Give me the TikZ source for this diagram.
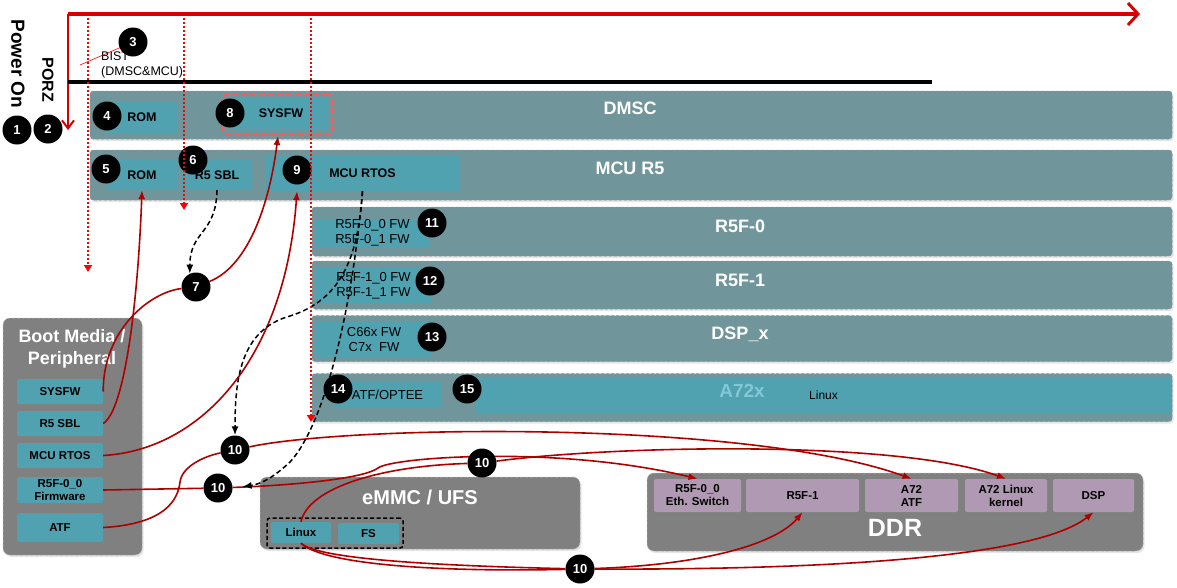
\documentclass[tikz,border=0pt]{standalone}
\usepackage{fontspec}
\setmainfont{Liberation Sans}
\usetikzlibrary{arrows.meta}
\usetikzlibrary{shadows}
\definecolor{bandc}{RGB}{112,150,155}
\definecolor{partc}{RGB}{80,162,177}
\definecolor{mediac}{RGB}{128,128,128}
\definecolor{ddrc}{RGB}{176,153,178}
\definecolor{loadc}{RGB}{175,0,0}
\definecolor{axisc}{RGB}{215,0,0}
\definecolor{ringc}{RGB}{250,90,90}
\definecolor{a72c}{RGB}{130,200,215}
\pgfdeclarelayer{lines}
\pgfdeclarelayer{marks}
\pgfsetlayers{main,lines,marks}
\tikzset{
  box/.style 2 args={minimum width=#1pt, minimum height=#2pt},
  band/.style={draw=gray!85, densely dashed, line width=0.5pt, fill=bandc, rounded corners=3pt, inner sep=0pt,
    drop shadow={opacity=0.2, shadow xshift=1.5pt, shadow yshift=-2pt}},
  media/.style={draw=gray!60, densely dashed, line width=0.5pt, fill=mediac, rounded corners=7pt, inner sep=0pt,
    drop shadow={opacity=0.2, shadow xshift=1.5pt, shadow yshift=-2pt}},
  part/.style={fill=partc, rounded corners=2pt, inner sep=0pt, align=center, font=\bfseries\fontsize{12.5}{14}\selectfont},
  fwtext/.style={font=\fontsize{13}{15}\selectfont},
  media part/.style={part, font=\bfseries\fontsize{11.5}{13}\selectfont},
  ddr part/.style={fill=ddrc, rounded corners=2pt, inner sep=0pt, align=center, font=\bfseries\fontsize{11.5}{13}\selectfont},
  row title/.style={text=white, font=\bfseries\fontsize{18}{20}\selectfont},
  media title/.style={text=white, align=center, font=\bfseries\fontsize{18}{22}\selectfont},
  num/.style={circle, fill=black, text=white, inner sep=0pt, minimum size=29pt, font=\bfseries\fontsize{13}{13}\selectfont},
  load/.style={draw=loadc, line width=1.6pt, -{Latex[length=9pt,width=7pt]}},
  load part/.style={draw=loadc, line width=1.6pt},
  hand/.style={draw=black, line width=1.5pt, dash pattern=on 5pt off 3pt, -{Latex[length=9pt,width=7pt]}},
  phase/.style={draw=red, line width=2.5pt, dash pattern=on 2pt off 2pt, -{Triangle[length=7pt,width=8pt]}},
  ring/.style={draw=ringc, line width=2pt, dash pattern=on 6pt off 3pt, rounded corners=5pt, inner sep=0pt},
  group/.style={draw=black, line width=1.5pt, dash pattern=on 4pt off 2.5pt, rounded corners=3pt, inner sep=0pt}
}

\begin{document}
\begin{tikzpicture}[x=1pt, y=-1pt]
  \fill[white, use as bounding box] (0,0) rectangle (1177,587);

  \coordinate (origin) at (68,14);
  \coordinate (tend) at (1140,14);
  \coordinate (porz) at (68,130);
  \draw[axisc, line width=3.5pt, -{Straight Barb[length=10pt,width=22pt,line width=3pt]}] (origin) -- (tend);
  \draw[axisc, line width=2pt, -{Straight Barb[length=8pt,width=12pt]}] (origin) -- (porz);
  \draw[line width=3.5pt] (68,82) -- (932,82);

  \node[rotate=-90, font=\bfseries\fontsize{19}{19}\selectfont] (pwron) at (18,64) {Power On};
  \node[rotate=-90, font=\bfseries\fontsize{16}{16}\selectfont] (porzt) at (48,80) {PORZ};
  \node[anchor=west, align=left, inner sep=0pt, font=\fontsize{12.5}{15.5}\selectfont] (bist) at (101,65) {BIST\\(DMSC\&MCU)};
  \coordinate (bistpin) at (80,65);

  \node[band, box={1082}{48}] (dmsc) at (631,115) {};
  \node[band, box={1082}{50}] (mcu) at (631,175) {};
  \node[band, box={860}{49}] (r5fa) at (742,231.5) {};
  \node[band, box={860}{48}] (r5fb) at (742,285) {};
  \node[band, box={860}{46}] (dspx) at (742,338.5) {};
  \node[band, box={860}{48}] (a72) at (742,397.5) {};
  \node[row title] (dmsct) at (630,108) {DMSC};
  \node[row title] (mcut) at (630,168) {MCU R5};
  \node[row title] (r5fat) at (740,226) {R5F-0};
  \node[row title] (r5fbt) at (740,280) {R5F-1};
  \node[row title] (dspxt) at (740,334) {DSP\_x};

  \node[part, box={70}{31}] (dmscrom) at (142,117.5) {ROM};
  \node[part, box={94}{33}] (sysfw) at (281,113.5) {SYSFW};
  \node[ring, box={110}{41}] (sysfwring) at (278,114.5) {};
  \node[part, box={70}{30}] (mcurom) at (142,175) {ROM};
  \node[part, box={70}{30}] (r5sbl) at (217,175) {R5 SBL};
  \node[part, box={195}{35}] (mcurtos) at (362.5,173.5) {MCU RTOS};
  \node[part, fwtext, box={115}{28}] (fwa) at (372.5,233) {R5F-0\_0 FW\\R5F-0\_1 FW};
  \node[part, fwtext, box={117}{35}] (fwb) at (373.5,285.5) {R5F-1\_0 FW\\R5F-1\_1 FW};
  \node[part, fwtext, box={116}{35}] (c66) at (374,339.5) {C66x FW\\C7x\ \ FW};
  \node[part, fwtext, box={108}{27}] (optee) at (387.5,394.5) {ATF/OPTEE};
  \node[part, font=\fontsize{12}{14}\selectfont, box={697}{35}] (a72lx) at (823.5,395.5) {Linux};
  \node[row title, text=a72c, font=\bfseries\fontsize{19}{20}\selectfont] (a72t) at (742,391) {A72x};

  \node[media, box={139}{237}] (boot) at (72.5,436.5) {};
  \node[media title] (boott) at (72,349) {Boot Media /\\Peripheral};
  \foreach \n/\y/\h/\t in {bsysfw/391.5/25/SYSFW, br5sbl/423.5/25/R5 SBL, bmcurtos/455.5/25/MCU RTOS,
      bfw/490/26/{R5F-0\_0\\Firmware}, batf/527.5/29/ATF}
    \node[media part, box={86}{\h}] (\n) at (60,\y) {\t};

  \node[media, box={320}{72}] (emmc) at (420,513) {};
  \node[media title, font=\bfseries\fontsize{20}{22}\selectfont] (emmct) at (420,497) {eMMC / UFS};
  \node[group, box={136}{30}] (ospack) at (335,533) {};
  \node[media part, box={60}{21}] (emlinux) at (301,532.5) {Linux};
  \node[media part, box={61}{21}] (emfs) at (368.5,533.5) {FS};

  \node[media, box={496}{78}] (ddr) at (895,512) {};
  \node[media title, font=\bfseries\fontsize{25}{25}\selectfont] (ddrt) at (895,528) {DDR};
  \foreach \n/\x/\w/\t in {eth/697.5/87/{R5F-0\_0\\Eth. Switch}, ddrr5f/802.5/113/R5F-1, ddratf/911.5/93/{A72\\ATF},
      kernel/1006/82/{A72 Linux\\kernel}, ddrdsp/1093.5/81/DSP}
    \node[ddr part, box={\w}{33}] (\n) at (\x,495.5) {\t};

  \draw[red, line width=0.6pt] (bistpin) -- (133,42);

  \begin{pgfonlayer}{marks}
    \foreach \n/\x/\y in {1/17/130, 2/48/129, 3/133/42, 4/107/116, 8/230/113, 5/106/169, 6/193/160,
        9/297/170, 11/432/223, 12/430/281, 13/432/337, 14/338/389, 15/467/389, 7/196/287}
      \node[num] (n\n) at (\x,\y) {\n};
    \node[num] (n10a) at (235,450) {10};
    \node[num] (n10b) at (218,488) {10};
    \node[num] (n10c) at (482,463) {10};
    \node[num] (n10d) at (580,569) {10};
    \foreach \x/\y in {88/272, 184/210, 311/422}
      \draw[phase] (\x,18) -- (\x,\y);
  \end{pgfonlayer}

  \begin{pgfonlayer}{lines}
    \draw[load part] (bsysfw.east) .. controls (103,330) and (150,292) .. (n7);
    \draw[load] (n7) .. controls (250,265) and (270,200) .. (sysfwring.south);
    \draw[load] (br5sbl.east) .. controls (125,410) and (138,300) .. (mcurom.south);
    \draw[load] (bmcurtos.east) .. controls (200,450) and (285,360) .. (n9 |- mcurtos.south);
    \draw[load] (bfw.east) -- (n10b) .. controls (300,485) and (365,478) .. (378,468)
      .. controls (392,457) and (560,445) .. (eth.north);
    \draw[load] (batf.east) .. controls (165,524) and (178,500) .. (180,482)
      .. controls (182,466) and (205,456) .. (n10a) .. controls (350,425) and (750,420) .. (ddratf.north);
    \draw[load] (emlinux.north) .. controls (308,488) and (380,466) .. (n10c)
      .. controls (620,445) and (900,440) .. (kernel.north);
    \draw[load part] (emlinux.south) .. controls (325,566) and (450,572) .. (n10d);
    \draw[load part] (emlinux.south) .. controls (318,560) and (450,566) .. (n10d);
    \draw[load] (n10d) .. controls (700,565) and (775,545) .. (ddrr5f.south);
    \draw[load] (n10d) .. controls (850,570) and (1040,555) .. (ddrdsp.south);

    \draw[hand] (r5sbl.south) .. controls (216,235) and (190,230) .. (n7.115);
    \draw[hand] (mcurtos.south) .. controls (358,260) and (340,300) .. (290,316)
      .. controls (240,330) and (235,380) .. (n10a);
    \draw[hand, shorten >=10pt] (mcurtos.south) .. controls (350,330) and (320,430) .. (290,462)
      .. controls (275,476) and (262,484) .. (n10b.east);
  \end{pgfonlayer}
\end{tikzpicture}
\end{document}
